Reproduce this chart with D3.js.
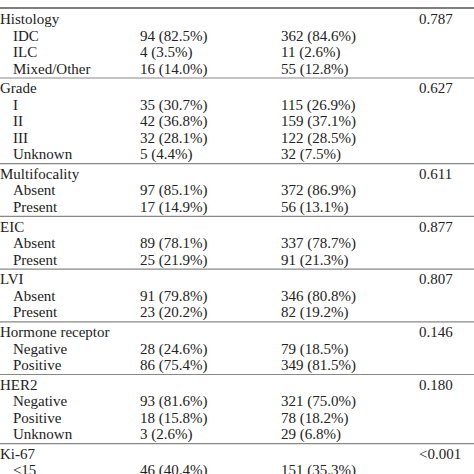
<!DOCTYPE html><html><head><meta charset="utf-8"><script src="https://cdn.jsdelivr.net/npm/d3@7"></script>
<style>body{margin:0;background:#fff}</style></head><body><svg id="c" width="474" height="474"></svg>
<script>
const groups = ["Histology","Grade","Multifocality","EIC","LVI","Hormone receptor","HER2","Ki-67"];
const pValues = ["0.787","0.627","0.611","0.877","0.807","0.146","0.180","<0.001"];
const subLabels = [["IDC","ILC","Mixed/Other"],["I","II","III","Unknown"],["Absent","Present"],["Absent","Present"],["Absent","Present"],["Negative","Positive"],["Negative","Positive","Unknown"],["≤15"]];
const col1 = [["94 (82.5%)","4 (3.5%)","16 (14.0%)"],["35 (30.7%)","42 (36.8%)","32 (28.1%)","5 (4.4%)"],["97 (85.1%)","17 (14.9%)"],["89 (78.1%)","25 (21.9%)"],["91 (79.8%)","23 (20.2%)"],["28 (24.6%)","86 (75.4%)"],["93 (81.6%)","18 (15.8%)","3 (2.6%)"],["46 (40.4%)"]];
const col2 = [["362 (84.6%)","11 (2.6%)","55 (12.8%)"],["115 (26.9%)","159 (37.1%)","122 (28.5%)","32 (7.5%)"],["372 (86.9%)","56 (13.1%)"],["337 (78.7%)","91 (21.3%)"],["346 (80.8%)","82 (19.2%)"],["79 (18.5%)","349 (81.5%)"],["321 (75.0%)","78 (18.2%)","29 (6.8%)"],["151 (35.3%)"]];
const topRow = ["", "114 (100%)", "428 (100%)"];

const svg = d3.select("#c");
const rowH = 16.5, gap = 3.2;
const x = d3.scaleOrdinal().domain(["label","sub","c1","c2","p"]).range([0,13,140,281,419]);
// row centers
const rows = []; let idx = 0;
groups.forEach((g,gi)=>{
  rows.push({t:"h",gi,k:idx++});
  subLabels[gi].forEach((s,si)=>rows.push({t:"s",gi,si,k:idx++}));
});
const y = (r)=> 19 + r.k*rowH + r.gi*gap;
const font = "'Liberation Serif', serif";
const txt = (xx,yy,s)=>svg.append("text").attr("x",xx).attr("y",yy+5).attr("font-family",font).attr("font-size",15).attr("fill","#222").text(s);
// top partial row
txt(x("c1"), -13, topRow[1]); txt(x("c2"), -13, topRow[2]); txt(x("label"), -13, "Total");
svg.append("line").attr("x1",0).attr("x2",474).attr("y1",8).attr("y2",8).attr("stroke","#555").attr("stroke-width",1.6);
rows.forEach(r=>{
  const yy=y(r);
  if(r.t==="h"){ txt(x("label"),yy,groups[r.gi]); txt(x("p"),yy,pValues[r.gi]); }
  else { txt(x("sub"),yy,subLabels[r.gi][r.si]); txt(x("c1"),yy,col1[r.gi][r.si]); txt(x("c2"),yy,col2[r.gi][r.si]); }
});
groups.slice(0,-1).forEach((g,gi)=>{
  const last = rows.filter(r=>r.gi===gi).pop();
  const ly = y(last)+9.5;
  svg.append("line").attr("x1",0).attr("x2",474).attr("y1",ly).attr("y2",ly).attr("stroke","#888").attr("stroke-width",1.2);
});
</script></body></html>
